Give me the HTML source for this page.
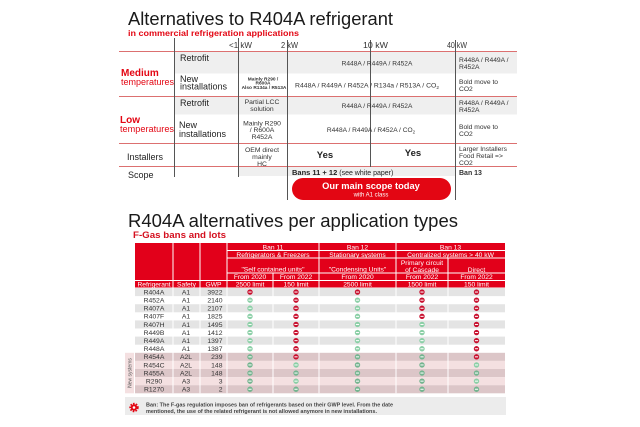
<!DOCTYPE html>
<html><head><meta charset="utf-8"><style>
html,body{margin:0;padding:0;background:#fff;}
svg{display:block;font-family:"Liberation Sans",Arial,sans-serif;}
</style></head><body>
<svg width="640" height="427" viewBox="0 0 640 427" xmlns="http://www.w3.org/2000/svg">
<defs>
<g id="R"><circle r="2.7" fill="#c8102e"/><rect x="-1.6" y="-0.5" width="3.2" height="1" fill="#fff"/></g>
<g id="G"><circle r="2.7" fill="#8acfa6"/><rect x="-1.6" y="-0.5" width="3.2" height="1" fill="#fff"/></g>
<g id="P"><circle r="2.7" fill="#74b48f"/><rect x="-1.6" y="-0.5" width="3.2" height="1" fill="#fff"/></g>
</defs>
<rect width="640" height="427" fill="#fff"/>

<!-- ===== TOP SECTION ===== -->
<text x="128" y="25" font-size="18" fill="#1a1a1a" textLength="265" lengthAdjust="spacingAndGlyphs">Alternatives to R404A refrigerant</text>
<text x="128" y="36" font-size="8.5" font-weight="bold" fill="#e30613" textLength="171" lengthAdjust="spacingAndGlyphs">in commercial refrigeration applications</text>

<!-- row backgrounds -->
<rect x="175" y="52" width="342" height="21.5" fill="#efefef"/>
<rect x="175" y="97" width="342" height="17.5" fill="#efefef"/>
<rect x="239" y="167" width="216" height="9" fill="#efefef"/>

<!-- horizontal red lines -->
<g stroke="#dc7070" stroke-width="1">
<line x1="119" y1="51.5" x2="517" y2="51.5"/>
<line x1="119" y1="96.5" x2="517" y2="96.5"/>
<line x1="119" y1="143.5" x2="517" y2="143.5"/>
<line x1="119" y1="166.5" x2="517" y2="166.5"/>
</g>
<!-- vertical lines -->
<g stroke="#555" stroke-width="1">
<line x1="174.5" y1="38" x2="174.5" y2="177"/>
<line x1="238.5" y1="38" x2="238.5" y2="177"/>
<line x1="287.5" y1="40" x2="287.5" y2="200"/>
<line x1="370.5" y1="40" x2="370.5" y2="167"/>
<line x1="455.5" y1="40" x2="455.5" y2="200"/>
</g>

<!-- kW labels -->
<g font-size="8" fill="#333">
<text x="229" y="48" textLength="23" lengthAdjust="spacingAndGlyphs">&lt;1 kW</text>
<text x="281" y="48" textLength="17" lengthAdjust="spacingAndGlyphs">2 kW</text>
<text x="363" y="48" textLength="25" lengthAdjust="spacingAndGlyphs">10 kW</text>
<text x="447" y="48" textLength="20" lengthAdjust="spacingAndGlyphs">40 kW</text>
</g>

<!-- left labels -->
<text x="121" y="76" font-size="10" font-weight="bold" fill="#e30613">Medium</text>
<text x="121" y="85" font-size="9" fill="#e30613" textLength="53" lengthAdjust="spacingAndGlyphs">temperatures</text>
<text x="120" y="123" font-size="10" font-weight="bold" fill="#e30613">Low</text>
<text x="120" y="132" font-size="9" fill="#e30613" textLength="54" lengthAdjust="spacingAndGlyphs">temperatures</text>
<g font-size="9" fill="#222">
<text x="180" y="61">Retrofit</text>
<text x="180" y="82">New</text>
<text x="180" y="89.5">installations</text>
<text x="180" y="106">Retrofit</text>
<text x="179" y="128">New</text>
<text x="179" y="137">installations</text>
<text x="127" y="160">Installers</text>
<text x="128" y="178">Scope</text>
</g>

<!-- <1kW column -->
<g font-size="4.8" font-weight="bold" fill="#333" text-anchor="middle">
<text x="263" y="80.5">Mainly R290 /</text>
<text x="263" y="84.5">R600A</text>
<text x="264" y="89">Also R134a / R513A</text>
</g>
<g font-size="6.8" fill="#333" text-anchor="middle">
<text x="262" y="104">Partial LCC</text>
<text x="262" y="111">solution</text>
<text x="262" y="125.5">Mainly R290</text>
<text x="262" y="132">/ R600A</text>
<text x="262" y="139">R452A</text>
<text x="262" y="152">OEM direct</text>
<text x="262" y="159">mainly</text>
<text x="262" y="166">HC</text>
</g>

<!-- 2-40 kW -->
<g font-size="6.6" fill="#333" text-anchor="middle">
<text x="377" y="65.5">R448A / R449A / R452A</text>
<text x="367" y="87.5" textLength="144" lengthAdjust="spacingAndGlyphs">R448A / R449A / R452A / R134a / R513A / CO<tspan font-size="4.5" dy="1.5">2</tspan></text>
<text x="377" y="108">R448A / R449A / R452A</text>
<text x="371" y="132">R448A / R449A / R452A / CO<tspan font-size="4.5" dy="1.5">2</tspan></text>
</g>
<text x="325" y="158" font-size="9.5" font-weight="bold" fill="#222" text-anchor="middle">Yes</text>
<text x="413" y="156" font-size="9.5" font-weight="bold" fill="#222" text-anchor="middle">Yes</text>

<!-- right column -->
<g font-size="6.7" fill="#333">
<text x="459" y="62">R448A / R449A /</text>
<text x="459" y="69">R452A</text>
<text x="459" y="84">Bold move to</text>
<text x="459" y="91">CO2</text>
<text x="459" y="105">R448A / R449A /</text>
<text x="459" y="112">R452A</text>
<text x="459" y="129">Bold move to</text>
<text x="459" y="136">CO2</text>
<text x="459" y="151">Larger Installers</text>
<text x="459" y="158">Food Retail =&gt;</text>
<text x="459" y="165">CO2</text>
<text x="459" y="175" font-weight="bold" font-size="7">Ban 13</text>
</g>

<!-- scope -->
<text x="292" y="175" font-size="7.5" fill="#222"><tspan font-weight="bold">Bans 11 + 12</tspan><tspan font-size="7" dx="2">(see white paper)</tspan></text>
<rect x="292" y="178" width="159" height="22" rx="11" fill="#e30613"/>
<text x="371" y="189" font-size="9.3" font-weight="bold" fill="#fff" text-anchor="middle">Our main scope today</text>
<text x="371" y="196.5" font-size="6" fill="#fff" text-anchor="middle">with A1 class</text>

<!-- ===== BOTTOM SECTION ===== -->
<text x="128" y="227" font-size="18.4" fill="#1a1a1a" textLength="330" lengthAdjust="spacingAndGlyphs">R404A alternatives per application types</text>
<text x="133" y="238" font-size="9.5" font-weight="bold" fill="#d40f1e" textLength="93" lengthAdjust="spacingAndGlyphs">F-Gas bans and lots</text>

<!-- header -->
<rect x="135" y="243" width="370" height="44.5" fill="#e2001a"/>
<g stroke="#fff" stroke-width="1">
<line x1="227" y1="250.5" x2="505" y2="250.5"/>
<line x1="227" y1="258" x2="505" y2="258"/>
<line x1="227" y1="273" x2="505" y2="273"/>
<line x1="135" y1="280.5" x2="505" y2="280.5"/>
<line x1="173" y1="243" x2="173" y2="288"/>
<line x1="200" y1="243" x2="200" y2="288"/>
<line x1="227" y1="243" x2="227" y2="288"/>
<line x1="273" y1="273" x2="273" y2="288"/>
<line x1="319" y1="243" x2="319" y2="288"/>
<line x1="396" y1="243" x2="396" y2="288"/>
<line x1="448" y1="258" x2="448" y2="288"/>
</g>
<g font-size="6.7" fill="#fff" text-anchor="middle">
<text x="273" y="249.5">Ban 11</text>
<text x="357.5" y="249.5">Ban 12</text>
<text x="450.5" y="249.5">Ban 13</text>
<text x="273" y="257">Refrigerators &amp; Freezers</text>
<text x="357.5" y="257">Stationary systems</text>
<text x="450.5" y="257">Centralized systems &gt; 40 kW</text>
<text x="273" y="271.5">"Self contained units"</text>
<text x="357.5" y="271.5">"Condensing Units"</text>
<text x="422" y="265">Primary circuit</text>
<text x="422" y="272">of Cascade</text>
<text x="476.5" y="272">Direct</text>
<text x="250" y="279">From 2020</text>
<text x="296" y="279">From 2022</text>
<text x="357.5" y="279">From 2020</text>
<text x="422" y="279">From 2022</text>
<text x="476.5" y="279">From 2022</text>
<text x="154" y="286.5">Refrigerant</text>
<text x="186.5" y="286.5">Safety</text>
<text x="213.5" y="286.5">GWP</text>
<text x="250" y="286.5">2500 limit</text>
<text x="296" y="286.5">150 limit</text>
<text x="357.5" y="286.5">2500 limit</text>
<text x="422" y="286.5">1500 limit</text>
<text x="476.5" y="286.5">150 limit</text>
</g>

<!-- data row backgrounds -->
<rect x="135" y="288" width="370" height="8.1" fill="#e4e4e4"/>
<rect x="135" y="304.2" width="370" height="8.1" fill="#e4e4e4"/>
<rect x="135" y="320.4" width="370" height="8.1" fill="#e4e4e4"/>
<rect x="135" y="336.6" width="370" height="8.1" fill="#e4e4e4"/>
<rect x="135" y="352.8" width="370" height="8.1" fill="#dcc6c8"/>
<rect x="135" y="360.9" width="370" height="8.1" fill="#f4e0e1"/>
<rect x="135" y="369" width="370" height="8.1" fill="#dcc6c8"/>
<rect x="135" y="377.1" width="370" height="8.1" fill="#f4e0e1"/>
<rect x="135" y="385.2" width="370" height="8.1" fill="#dcc6c8"/>
<g stroke="#fff" stroke-width="1">
<line x1="173" y1="288" x2="173" y2="393.3"/>
<line x1="200" y1="288" x2="200" y2="393.3"/>
<line x1="227" y1="288" x2="227" y2="393.3"/>
<line x1="273" y1="288" x2="273" y2="393.3"/>
<line x1="319" y1="288" x2="319" y2="393.3"/>
<line x1="396" y1="288" x2="396" y2="393.3"/>
<line x1="448" y1="288" x2="448" y2="393.3"/>
</g>

<!-- New systems strip -->
<rect x="125" y="352.8" width="9" height="40.5" fill="#f4e0e1"/>
<text transform="translate(131.5,373) rotate(-90)" font-size="5" fill="#555" text-anchor="middle">New systems</text>

<!-- data text -->
<g font-size="6.8" fill="#333" text-anchor="middle">
<text x="154" y="294.35">R404A</text><text x="186" y="294.35">A1</text>
<text x="154" y="302.45">R452A</text><text x="186" y="302.45">A1</text>
<text x="154" y="310.55">R407A</text><text x="186" y="310.55">A1</text>
<text x="154" y="318.65">R407F</text><text x="186" y="318.65">A1</text>
<text x="154" y="326.75">R407H</text><text x="186" y="326.75">A1</text>
<text x="154" y="334.85">R449B</text><text x="186" y="334.85">A1</text>
<text x="154" y="342.95">R449A</text><text x="186" y="342.95">A1</text>
<text x="154" y="351.05">R448A</text><text x="186" y="351.05">A1</text>
<text x="154" y="359.15">R454A</text><text x="186" y="359.15">A2L</text>
<text x="154" y="367.25">R454C</text><text x="186" y="367.25">A2L</text>
<text x="154" y="375.35">R455A</text><text x="186" y="375.35">A2L</text>
<text x="154" y="383.45">R290</text><text x="186" y="383.45">A3</text>
<text x="154" y="391.55">R1270</text><text x="186" y="391.55">A3</text>
</g>
<g font-size="6.8" fill="#333" text-anchor="end">
<text x="222.5" y="294.35">3922</text>
<text x="222.5" y="302.45">2140</text>
<text x="222.5" y="310.55">2107</text>
<text x="222.5" y="318.65">1825</text>
<text x="222.5" y="326.75">1495</text>
<text x="222.5" y="334.85">1412</text>
<text x="222.5" y="342.95">1397</text>
<text x="222.5" y="351.05">1387</text>
<text x="222.5" y="359.15">239</text>
<text x="222.5" y="367.25">148</text>
<text x="222.5" y="375.35">148</text>
<text x="222.5" y="383.45">3</text>
<text x="222.5" y="391.55">2</text>
</g>

<!-- icons -->
<use href="#R" x="250" y="292.05"/><use href="#R" x="296" y="292.05"/><use href="#R" x="357.5" y="292.05"/><use href="#R" x="422" y="292.05"/><use href="#R" x="476.5" y="292.05"/>
<use href="#G" x="250" y="300.15"/><use href="#R" x="296" y="300.15"/><use href="#G" x="357.5" y="300.15"/><use href="#R" x="422" y="300.15"/><use href="#R" x="476.5" y="300.15"/>
<use href="#G" x="250" y="308.25"/><use href="#R" x="296" y="308.25"/><use href="#G" x="357.5" y="308.25"/><use href="#R" x="422" y="308.25"/><use href="#R" x="476.5" y="308.25"/>
<use href="#G" x="250" y="316.35"/><use href="#R" x="296" y="316.35"/><use href="#G" x="357.5" y="316.35"/><use href="#R" x="422" y="316.35"/><use href="#R" x="476.5" y="316.35"/>
<use href="#G" x="250" y="324.45"/><use href="#R" x="296" y="324.45"/><use href="#G" x="357.5" y="324.45"/><use href="#G" x="422" y="324.45"/><use href="#R" x="476.5" y="324.45"/>
<use href="#G" x="250" y="332.55"/><use href="#R" x="296" y="332.55"/><use href="#G" x="357.5" y="332.55"/><use href="#G" x="422" y="332.55"/><use href="#R" x="476.5" y="332.55"/>
<use href="#G" x="250" y="340.65"/><use href="#R" x="296" y="340.65"/><use href="#G" x="357.5" y="340.65"/><use href="#G" x="422" y="340.65"/><use href="#R" x="476.5" y="340.65"/>
<use href="#G" x="250" y="348.75"/><use href="#R" x="296" y="348.75"/><use href="#G" x="357.5" y="348.75"/><use href="#G" x="422" y="348.75"/><use href="#R" x="476.5" y="348.75"/>
<use href="#P" x="250" y="356.85"/><use href="#R" x="296" y="356.85"/><use href="#P" x="357.5" y="356.85"/><use href="#P" x="422" y="356.85"/><use href="#R" x="476.5" y="356.85"/>
<use href="#P" x="250" y="364.95"/><use href="#G" x="296" y="364.95"/><use href="#P" x="357.5" y="364.95"/><use href="#P" x="422" y="364.95"/><use href="#G" x="476.5" y="364.95"/>
<use href="#P" x="250" y="373.05"/><use href="#P" x="296" y="373.05"/><use href="#P" x="357.5" y="373.05"/><use href="#P" x="422" y="373.05"/><use href="#P" x="476.5" y="373.05"/>
<use href="#P" x="250" y="381.15"/><use href="#G" x="296" y="381.15"/><use href="#P" x="357.5" y="381.15"/><use href="#P" x="422" y="381.15"/><use href="#G" x="476.5" y="381.15"/>
<use href="#P" x="250" y="389.25"/><use href="#P" x="296" y="389.25"/><use href="#P" x="357.5" y="389.25"/><use href="#P" x="422" y="389.25"/><use href="#P" x="476.5" y="389.25"/>

<!-- footnote -->
<rect x="125" y="397" width="381" height="18" fill="#ececec"/>
<circle cx="134" cy="407.5" r="3.8" fill="none" stroke="#e30613" stroke-width="1.8" stroke-dasharray="1.6 1.2"/>
<circle cx="134" cy="407.5" r="3.2" fill="#e30613"/>
<circle cx="134" cy="407.5" r="1.3" fill="#fff"/>
<g font-size="5.6" font-weight="bold" fill="#444">
<text x="146" y="406.5" textLength="247" lengthAdjust="spacingAndGlyphs">Ban: The F-gas regulation imposes ban of refrigerants based on their GWP level. From the date</text>
<text x="146" y="413" textLength="231" lengthAdjust="spacingAndGlyphs">mentioned, the use of the related refrigerant is not allowed anymore in new installations.</text>
</g>
</svg>
</body></html>
